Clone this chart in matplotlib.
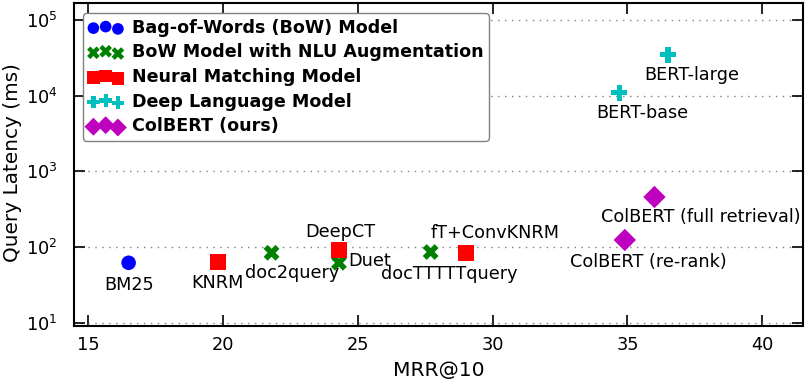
import matplotlib
matplotlib.use("Agg")
import matplotlib.pyplot as plt
from matplotlib.ticker import LogLocator, NullLocator

# groups: (legend label, color, marker, model names, MRR@10, latency ms)
BOW_NAMES = ["BM25"]
BOW_MRR = [16.5]
BOW_LAT = [62]

NLU_NAMES = ["doc2query", "Duet", "docTTTTTquery"]
NLU_MRR = [21.8, 24.3, 27.7]
NLU_LAT = [84, 62, 86]

NEURAL_NAMES = ["KNRM", "DeepCT", "fT+ConvKNRM"]
NEURAL_MRR = [19.8, 24.3, 29.0]
NEURAL_LAT = [63, 91, 83]

LM_NAMES = ["BERT-base", "BERT-large"]
LM_MRR = [34.7, 36.5]
LM_LAT = [10900, 34700]

COLBERT_NAMES = ["ColBERT (re-rank)", "ColBERT (full retrieval)"]
COLBERT_MRR = [34.9, 36.0]
COLBERT_LAT = [124, 458]

# label offsets in pixels (dx, dy) and horizontal alignment
LABEL_POS = {
    "BM25": (0, -22, "center"),
    "KNRM": (0, -21, "center"),
    "doc2query": (21, -20, "center"),
    "DeepCT": (1, 18, "center"),
    "Duet": (9, 2, "left"),
    "docTTTTTquery": (19, -22, "center"),
    "fT+ConvKNRM": (29, 20, "center"),
    "BERT-large": (24, -20, "center"),
    "BERT-base": (23, -20, "center"),
    "ColBERT (full retrieval)": (46, -20, "center"),
    "ColBERT (re-rank)": (24, -22, "center"),
}

groups = [
    ("Bag-of-Words (BoW) Model", "b", "o", 110, BOW_NAMES, BOW_MRR, BOW_LAT),
    ("BoW Model with NLU Augmentation", "g", "X", 130, NLU_NAMES, NLU_MRR, NLU_LAT),
    ("Neural Matching Model", "r", "s", 130, NEURAL_NAMES, NEURAL_MRR, NEURAL_LAT),
    ("Deep Language Model", "c", "P", 130, LM_NAMES, LM_MRR, LM_LAT),
    ("ColBERT (ours)", "m", "D", 130, COLBERT_NAMES, COLBERT_MRR, COLBERT_LAT),
]

fig = plt.figure(figsize=(8.06, 3.87), dpi=100)
ax = fig.add_axes([0.092, 0.158, 0.904, 0.834])

for label, color, marker, size, names, xs, ys in groups:
    ax.scatter(xs, ys, c=color, marker=marker, s=size, label=label,
               edgecolors="none", zorder=3)
    for name, x, y in zip(names, xs, ys):
        dx, dy, ha = LABEL_POS[name]
        ax.annotate(name, (x, y), xytext=(dx, dy), textcoords="offset pixels",
                    ha=ha, va="center", fontsize=12.7)

ax.set_yscale("log")
ax.set_xlim(14.48, 41.5)
ax.set_ylim(10 ** 0.96, 10 ** 5.22)
ax.yaxis.set_major_locator(LogLocator(base=10, numticks=10))
ax.yaxis.set_minor_locator(NullLocator())
ax.set_xticks([15, 20, 25, 30, 35, 40])

ax.grid(axis="y", linestyle=(0, (1, 4)), color="gray", linewidth=1)
ax.set_axisbelow(True)
ax.tick_params(which="major", direction="in", length=8, width=1.2,
               top=True, right=True, labelsize=12.8)
ax.tick_params(axis="y", pad=12)
ax.tick_params(axis="x", pad=7)
for sp in ax.spines.values():
    sp.set_linewidth(1.5)

ax.set_xlabel("MRR@10", fontsize=14.6, labelpad=5)
ax.set_ylabel("Query Latency (ms)", fontsize=14.4)
ax.yaxis.set_label_coords(-0.071, 0.505)

leg = ax.legend(loc="upper left", scatterpoints=3, prop={"weight": "bold", "size": 12.6},
                markerscale=0.8, handletextpad=0.5, borderpad=0.3, labelspacing=0.38,
                handlelength=2.0, fancybox=True, framealpha=1, edgecolor="gray",
                bbox_to_anchor=(0.0, 0.995))

fig.savefig("out.png", dpi=100)
